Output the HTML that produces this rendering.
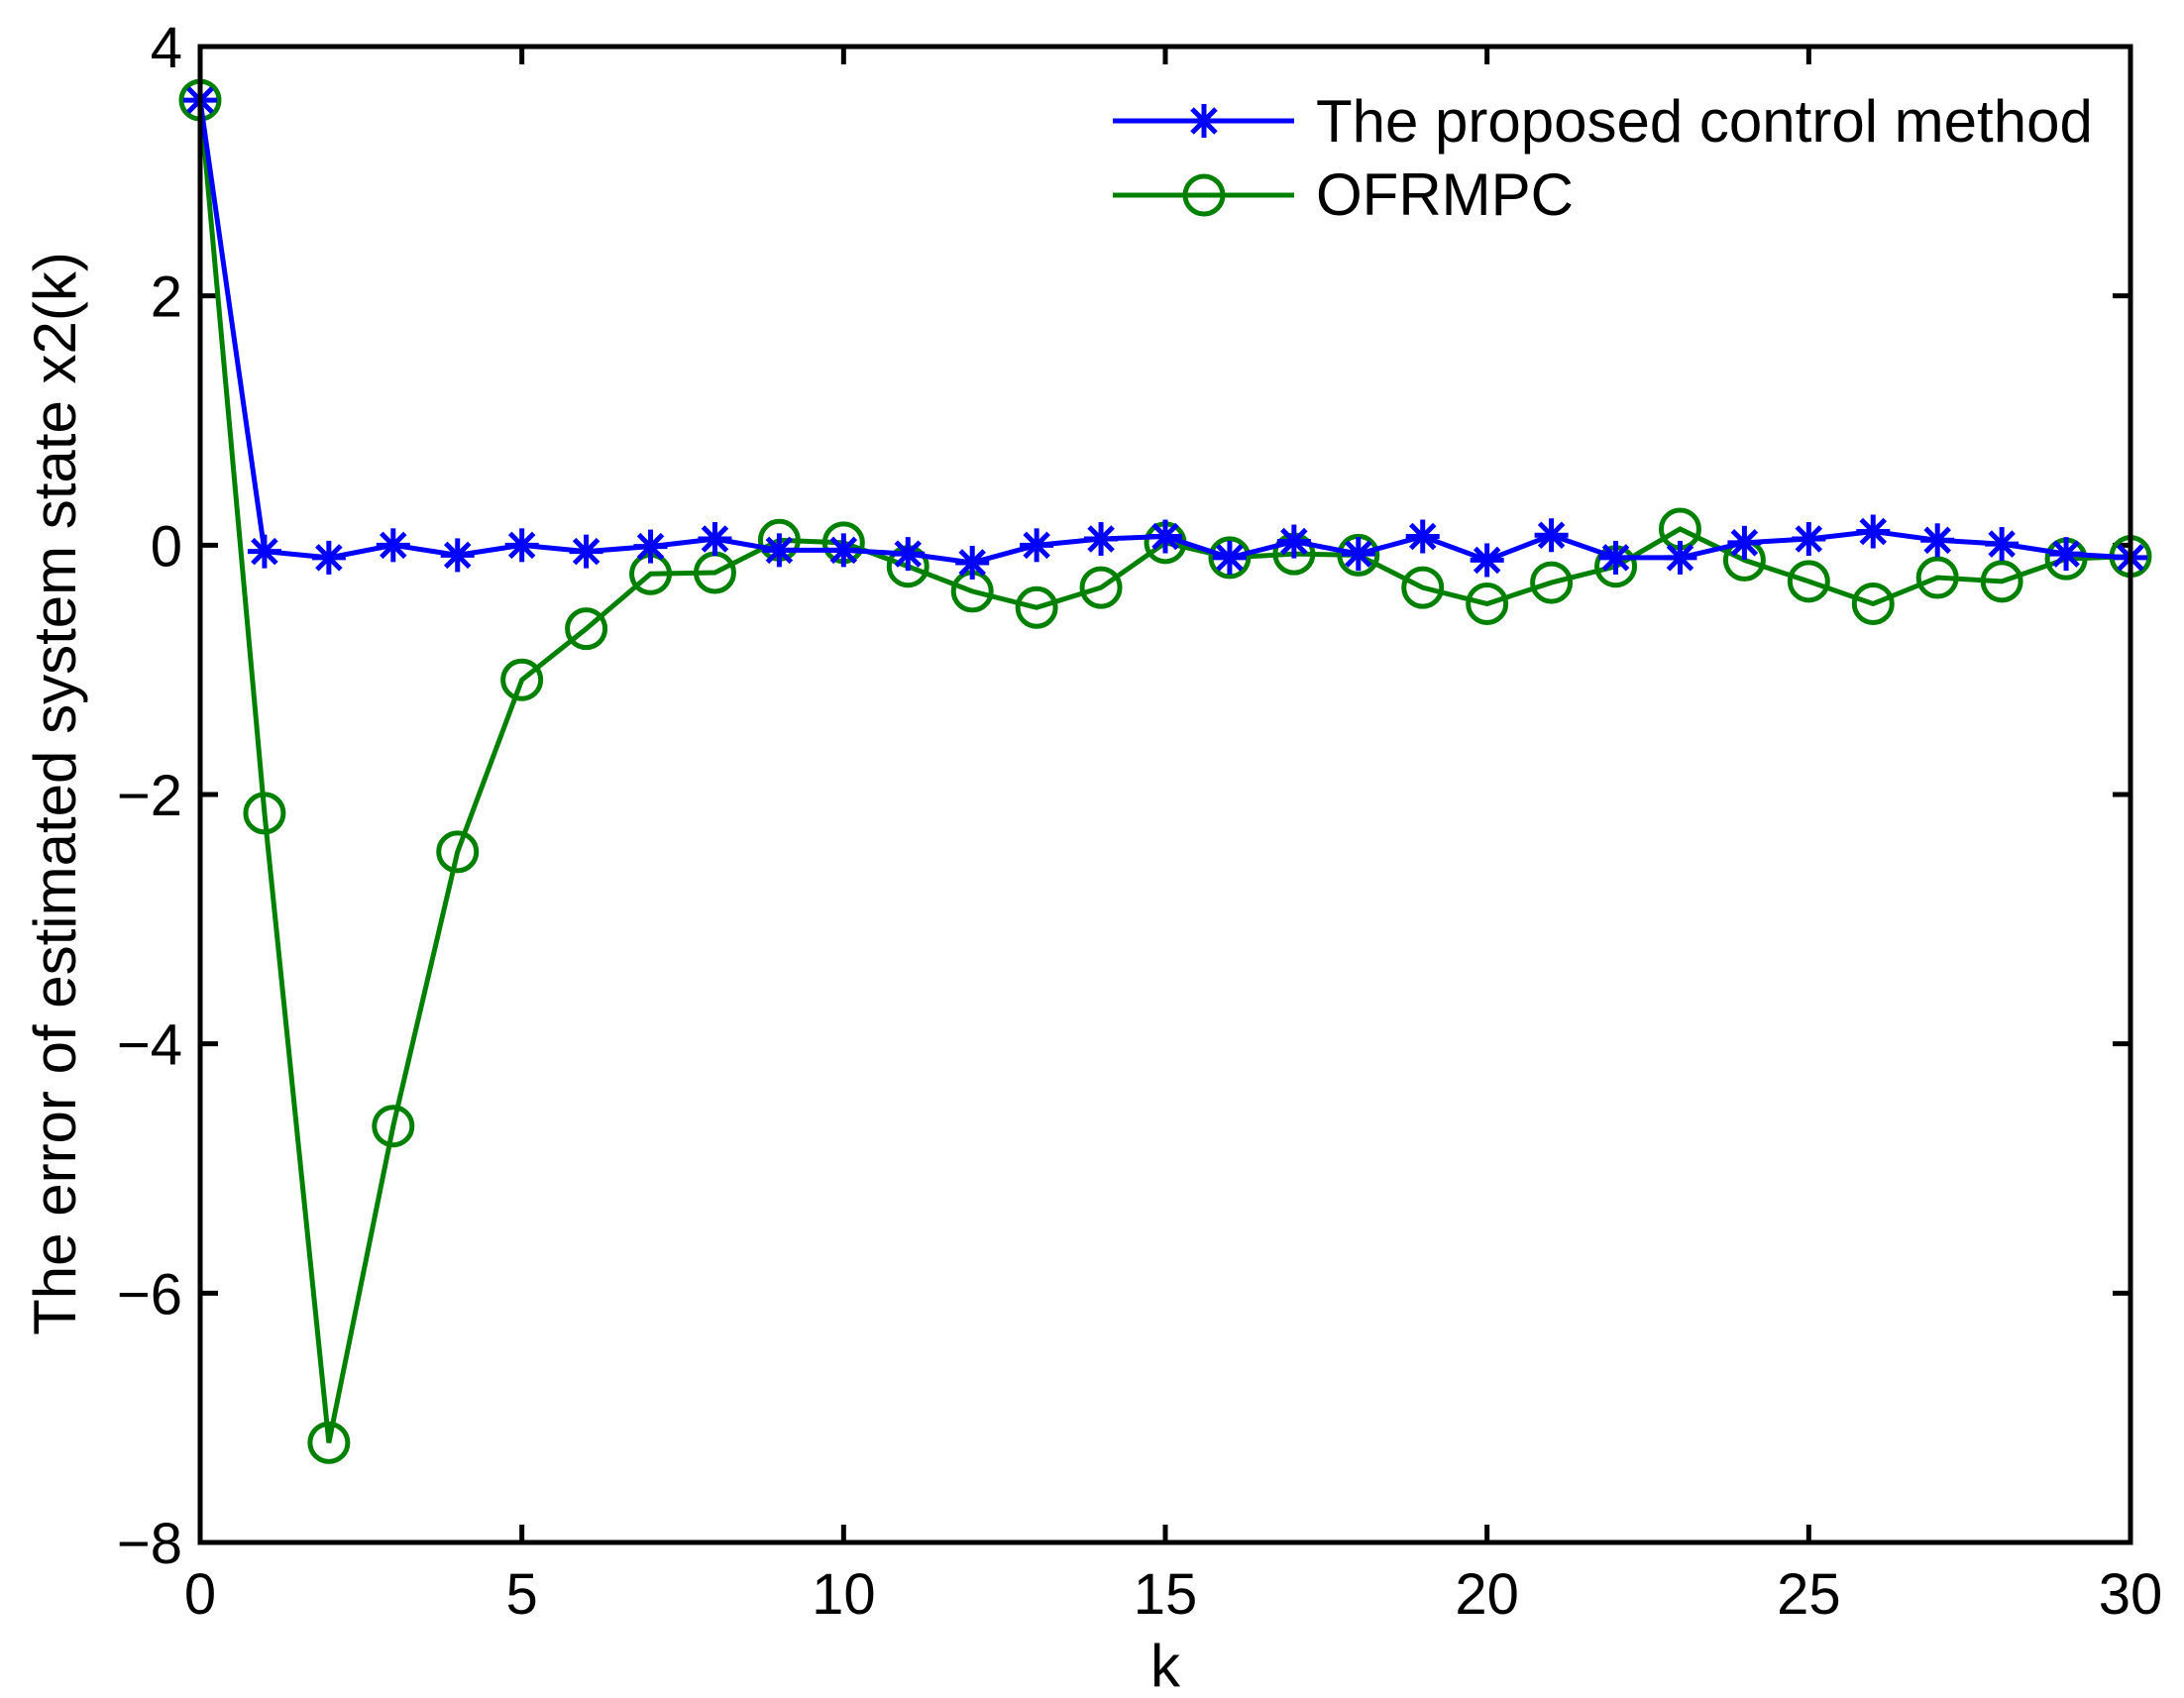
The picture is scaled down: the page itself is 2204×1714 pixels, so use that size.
<!DOCTYPE html>
<html><head><meta charset="utf-8"><style>html,body{margin:0;padding:0;background:#fff}svg{display:block}</style></head>
<body>
<svg width="2204" height="1714" xmlns="http://www.w3.org/2000/svg" font-family="Liberation Sans, Arial, sans-serif">
<rect width="2204" height="1714" fill="#fff"/>
<g id="ticks" stroke="#000" stroke-width="5" fill="none"></g>
<g id="series"></g>
<rect x="202" y="47" width="1948" height="1510" fill="none" stroke="#000" stroke-width="5"/>
<g font-size="58" fill="#000" id="labels"></g>
<text x="1176" y="1702" font-size="60" text-anchor="middle">k</text>
<text transform="translate(76,801) rotate(-90)" font-size="60" text-anchor="middle">The error of estimated system state x2(k)</text>
<g id="legend">
<line x1="1123" y1="122" x2="1306" y2="122" stroke="#0000ff" stroke-width="5"/>
<g stroke="#0000ff" stroke-width="5"><line x1="1215" y1="105" x2="1215" y2="139"/><line x1="1198" y1="122" x2="1232" y2="122"/><line x1="1203" y1="110" x2="1227" y2="134"/><line x1="1203" y1="134" x2="1227" y2="110"/></g>
<text x="1328" y="143" font-size="60">The proposed control method</text>
<line x1="1123" y1="197" x2="1306" y2="197" stroke="#008000" stroke-width="5"/>
<circle cx="1215" cy="197" r="19" fill="none" stroke="#008000" stroke-width="5"/>
<text x="1328" y="217" font-size="60">OFRMPC</text>
</g>
<script>
var X0=202,X1=2150,Y0=47,Y1=1557;
function px(k){return X0+k*(X1-X0)/30}
function py(v){return Y0+(4-v)*(Y1-Y0)/12}
var ns="http://www.w3.org/2000/svg";
function el(t,a,p){var e=document.createElementNS(ns,t);for(var k in a)e.setAttribute(k,a[k]);p.appendChild(e);return e}
var tk=document.getElementById('ticks'),lb=document.getElementById('labels'),sr=document.getElementById('series');
for(var k=0;k<=30;k+=5){var x=px(k);el('line',{x1:x,y1:Y1,x2:x,y2:Y1-18},tk);el('line',{x1:x,y1:Y0,x2:x,y2:Y0+18},tk);
var t=el('text',{x:x,y:1629,'text-anchor':'middle'},lb);t.textContent=k;}
for(var v=-8;v<=4;v+=2){var y=py(v);el('line',{x1:X0,y1:y,x2:X0+18,y2:y},tk);el('line',{x1:X1,y1:y,x2:X1-18,y2:y},tk);
var t=el('text',{x:184,y:y+21,'text-anchor':'end'},lb);t.textContent=(v<0?'\u2212'+(-v):v);}
var g=[3.57,-2.15,-7.2,-4.66,-2.46,-1.08,-0.67,-0.23,-0.22,0.04,0.02,-0.17,-0.37,-0.5,-0.34,0.02,-0.1,-0.07,-0.08,-0.34,-0.47,-0.3,-0.17,0.13,-0.12,-0.29,-0.47,-0.26,-0.29,-0.11,-0.09];
var b=[3.57,-0.05,-0.1,0,-0.08,0,-0.05,-0.01,0.05,-0.04,-0.04,-0.07,-0.14,0,0.05,0.07,-0.1,0.03,-0.07,0.07,-0.12,0.08,-0.1,-0.1,0.02,0.05,0.11,0.04,0.01,-0.07,-0.1];
function pts(a){return a.map(function(v,i){return px(i)+','+py(v)}).join(' ')}
el('polyline',{points:pts(g),fill:'none',stroke:'#008000','stroke-width':5},sr);
g.forEach(function(v,i){el('circle',{cx:px(i),cy:py(v),r:19,fill:'none',stroke:'#008000','stroke-width':5},sr)});
el('polyline',{points:pts(b),fill:'none',stroke:'#0000ff','stroke-width':5},sr);
b.forEach(function(v,i){var x=px(i),y=py(v),s=17,d=12;var gg=el('g',{stroke:'#0000ff','stroke-width':5},sr);
el('line',{x1:x,y1:y-s,x2:x,y2:y+s},gg);el('line',{x1:x-s,y1:y,x2:x+s,y2:y},gg);
el('line',{x1:x-d,y1:y-d,x2:x+d,y2:y+d},gg);el('line',{x1:x-d,y1:y+d,x2:x+d,y2:y-d},gg);});
</script>
</svg>
</body></html>
